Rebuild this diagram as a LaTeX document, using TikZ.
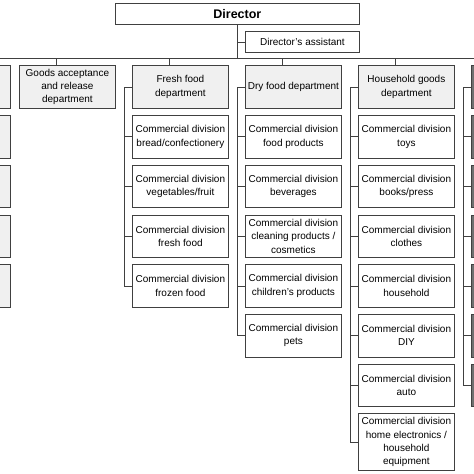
\documentclass[tikz,border=0pt]{standalone}
\usepackage{fontspec}
\setmainfont{Liberation Sans}
\usetikzlibrary{calc, positioning}
\definecolor{boxline}{HTML}{404040}
\definecolor{deptfill}{HTML}{F0F0F0}
\definecolor{sidefill}{HTML}{707070}

\begin{document}
\begin{tikzpicture}[x=1pt, y=-1pt, node distance=6.4pt]
            \tikzset{unit/.style={draw=boxline, line width=0.8pt, minimum width=96pt, inner sep=1pt, align=center, font=\fontsize{10}{13.3}\selectfont},
                     dept/.style={unit, fill=deptfill, minimum height=43pt},
                     division/.style={unit, fill=white, minimum height=42.5pt},
                     side/.style={unit, fill=sidefill, minimum height=42.5pt},
                     link/.style={draw=boxline, line width=0.8pt}}
            \useasboundingbox (0, 0) rectangle (474, 474);
            % top
            \node[unit, anchor=north west, minimum width=244pt, minimum height=21pt, font=\bfseries\fontsize{12.5}{15}\selectfont] (director) at (115, 3) {Director};
            \node[unit, anchor=north west, minimum width=114pt, minimum height=21pt] (assistant) at (245, 31) {Director's assistant};
            % departments
            \node[dept, anchor=north west] (left) at (-86, 65) {};
            \node[dept, anchor=north west] (goods) at (19, 65) {Goods acceptance\\and release\\department};
            \node[dept, anchor=north west] (fresh) at (132, 65) {Fresh food\\department};
            \node[dept, anchor=north west] (dry) at (245, 65) {Dry food department};
            \node[dept, anchor=north west] (house) at (358, 65) {Household goods\\department};
            \node[side, anchor=north west, minimum height=43pt] (right) at (471, 65) {};
            % left column
            \node[dept, minimum height=42.5pt, below=of left] (leftA) {};
            \node[dept, minimum height=42.5pt, below=of leftA] (leftB) {};
            \node[dept, minimum height=42.5pt, below=of leftB] (leftC) {};
            \node[dept, minimum height=42.5pt, below=of leftC] (leftD) {};
            % fresh food
            \node[division, below=of fresh] (freshA) {Commercial division\\bread/confectionery};
            \node[division, below=of freshA] (freshB) {Commercial division\\vegetables/fruit};
            \node[division, below=of freshB] (freshC) {Commercial division\\fresh food};
            \node[division, below=of freshC] (freshD) {Commercial division\\frozen food};
            % dry food
            \node[division, below=of dry] (dryA) {Commercial division\\food products};
            \node[division, below=of dryA] (dryB) {Commercial division\\beverages};
            \node[division, below=of dryB] (dryC) {Commercial division\\cleaning products /\\cosmetics};
            \node[division, below=of dryC] (dryD) {Commercial division\\children's products};
            \node[division, below=of dryD] (dryE) {Commercial division\\pets};
            % household goods
            \node[division, below=of house] (houseA) {Commercial division\\toys};
            \node[division, below=of houseA] (houseB) {Commercial division\\books/press};
            \node[division, below=of houseB] (houseC) {Commercial division\\clothes};
            \node[division, below=of houseC] (houseD) {Commercial division\\household};
            \node[division, below=of houseD] (houseE) {Commercial division\\DIY};
            \node[division, below=of houseE] (houseF) {Commercial division\\auto};
            \node[division, below=of houseF, minimum height=57pt] (houseG) {Commercial division\\home electronics /\\household\\equipment};
            % right column
            \node[side, below=of right] (rightA) {};
            \node[side, below=of rightA] (rightB) {};
            \node[side, below=of rightB] (rightC) {};
            \node[side, below=of rightC] (rightD) {};
            \node[side, below=of rightD] (rightE) {};
            \node[side, below=of rightE] (rightF) {};
            % connectors
            \coordinate (busL) at (0, 58);
            \coordinate (busR) at (474, 58);
            \draw[link] (busL) -- (busR);
            \draw[link] (director.south) -- (director.south |- busL);
            \draw[link] (director.south |- assistant.west) -- (assistant.west);
            \foreach \d in {left, goods, fresh, dry, house, right}
                \draw[link] ([xshift=-11pt]\d.north) -- ([xshift=-11pt]\d.north |- busL);
            \draw[link] (fresh.west) -- ++(-8, 0) |- (freshD.west);
            \draw[link] (dry.west) -- ++(-8, 0) |- (dryE.west);
            \draw[link] (house.west) -- ++(-8, 0) |- (houseG.west);
            \draw[link] (right.west) -- ++(-8, 0) |- (rightF.west);
            \foreach \c in {freshA, freshB, freshC, dryA, dryB, dryC, dryD, houseA, houseB, houseC, houseD, houseE, houseF, rightA, rightB, rightC, rightD, rightE}
                \draw[link] (\c.west) -- ++(-8, 0);
        \end{tikzpicture}
\end{document}
